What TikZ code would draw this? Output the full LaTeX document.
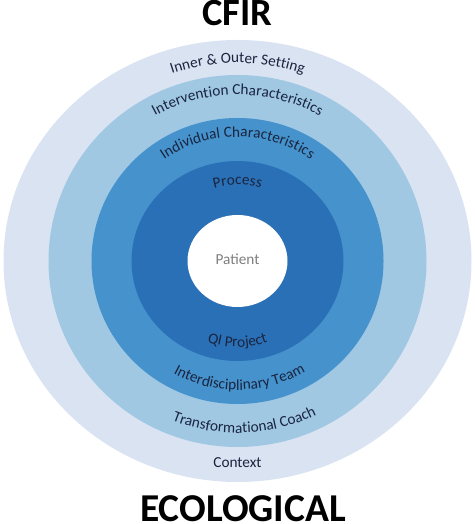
\documentclass[tikz,border=0pt]{standalone}
\usepackage{fontspec}
\setmainfont{Carlito}
\usetikzlibrary{decorations.text}
\definecolor{ringA}{HTML}{DAE3F2}
\definecolor{ringB}{HTML}{A0C8E3}
\definecolor{ringC}{HTML}{4592CC}
\definecolor{ringD}{HTML}{2A70B6}
\definecolor{txt}{HTML}{1A2540}
\definecolor{pat}{HTML}{7F7F7F}
\newcommand\lblfont{\fontsize{15.3}{18}\selectfont}
\begin{document}
\begin{tikzpicture}[x=1pt,y=1pt,
  lbl/.style={decorate,decoration={text along path,text align=center,text color=txt,text={#1}}},
  title/.style={font=\fontsize{39.5}{42}\selectfont\bfseries,text=black,inner sep=0pt,anchor=base}]
\useasboundingbox (0,0) rectangle (474,524);
\coordinate (c) at (237.5,263);
\fill[ringA] (c) ellipse [x radius=234, y radius=221];
\fill[ringB] (c) ellipse [x radius=189, y radius=186];
\fill[ringC] (c) ellipse [x radius=146, y radius=143];
\fill[ringD] (c) ellipse [x radius=106, y radius=100];
\fill[white] (c) ellipse [x radius=50, y radius=46];
% top labels
\path[lbl={|\lblfont|Inner {\&} Outer Setting}] (c) ++(160:203 and 198) arc[start angle=160,end angle=20,x radius=203,y radius=198];
\path[lbl={|\lblfont|Intervention Characteristics}] (c) ++(160:170 and 166) arc[start angle=160,end angle=20,x radius=170,y radius=166];
\path[lbl={|\lblfont|Individual Characteristics}] (c) ++(160:128 and 124) arc[start angle=160,end angle=20,x radius=128,y radius=124];
\path[lbl={|\lblfont|Process}] (c) ++(160:80 and 76) arc[start angle=160,end angle=20,x radius=80,y radius=76];
% bottom labels
\path[lbl={|\lblfont|QI Project}] (c) ++(200:90 and 86) arc[start angle=200,end angle=340,x radius=90,y radius=86];
\path[lbl={|\lblfont|Interdisciplinary Team}] (c) ++(201:132 and 129) arc[start angle=201,end angle=341,x radius=132,y radius=129];
\path[lbl={|\lblfont|Transformational Coach}] (c) ++(202.5:176 and 172) arc[start angle=202.5,end angle=342.5,x radius=176,y radius=172];
\node[font=\lblfont,text=txt,inner sep=0pt,anchor=base] (context) at (237.5,56) {Context};
\node[font=\lblfont,text=pat,inner sep=0pt,anchor=base] (patient) at (237.5,259) {Patient};
\node[title,font=\fontsize{38.5}{41}\selectfont\bfseries] (cfir) at (237.5,498.5) {CFIR};
\node[title] (eco) at (243,2.5) {ECOLOGICAL};
\end{tikzpicture}
\end{document}
